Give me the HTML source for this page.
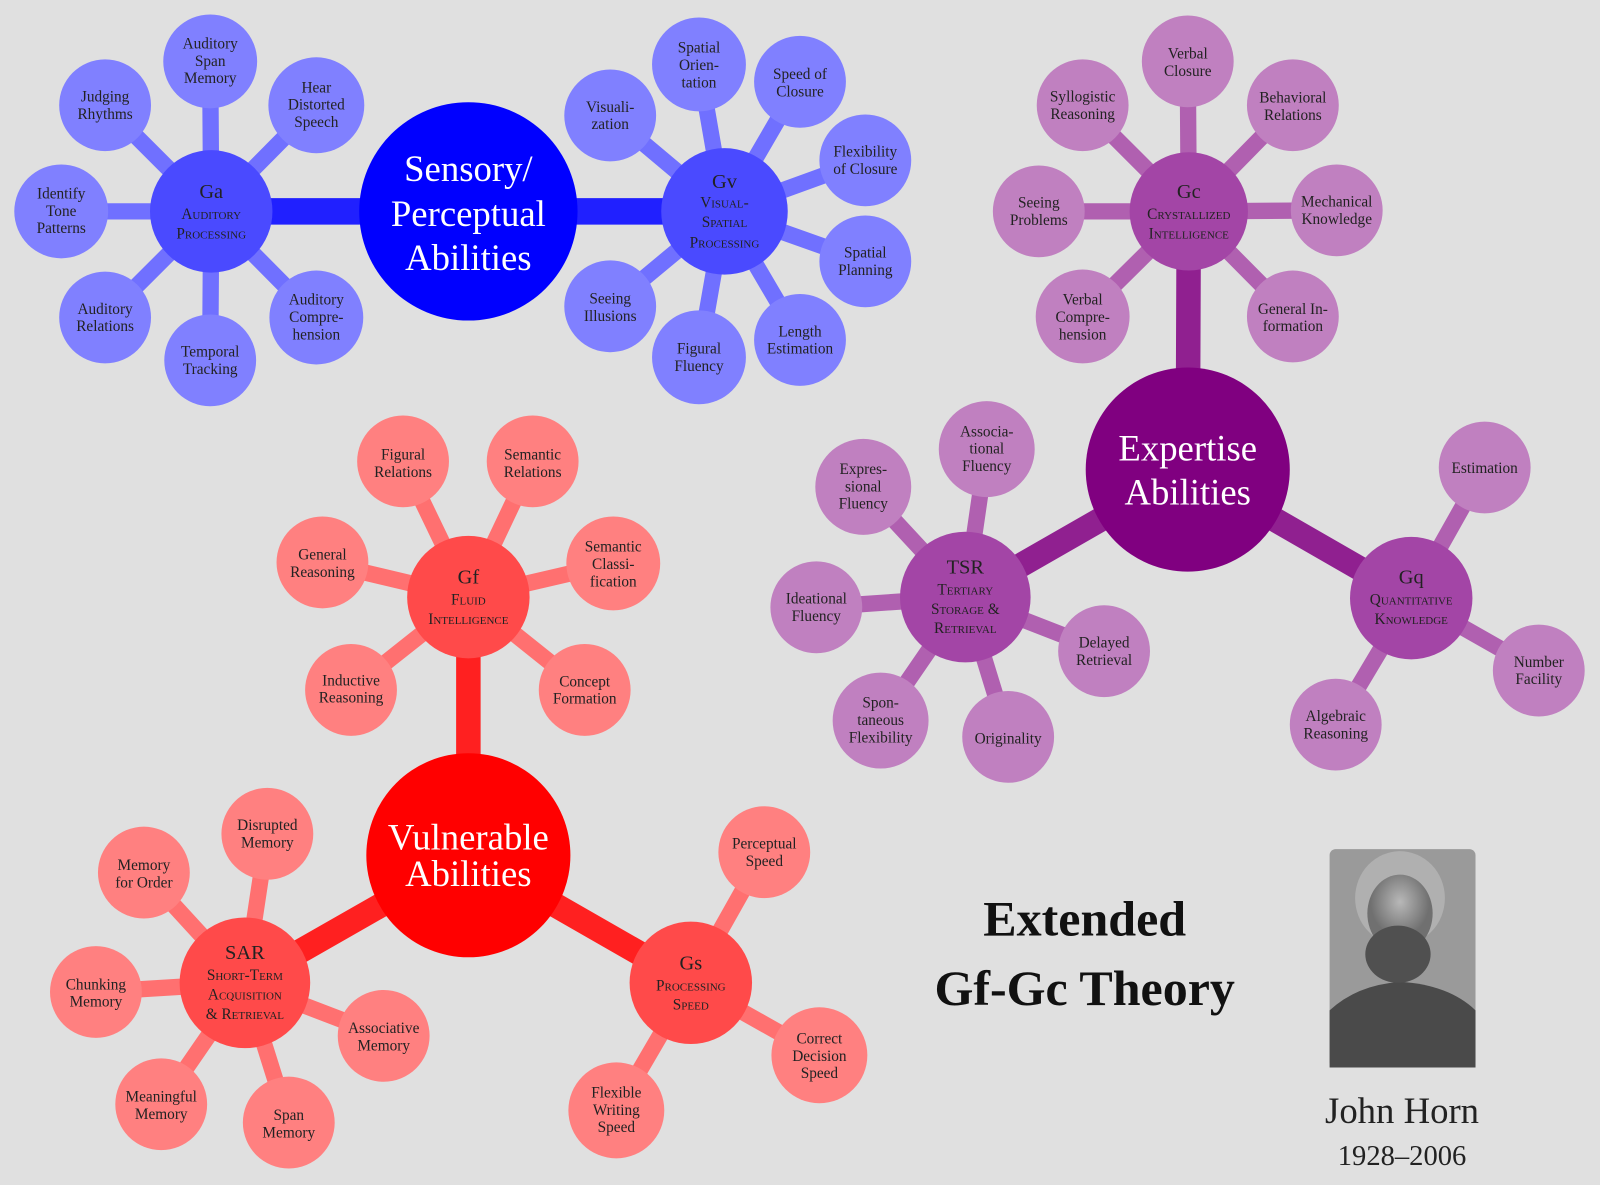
<!DOCTYPE html>
<html><head><meta charset="utf-8"><style>
html,body{margin:0;padding:0;background:#e0e0e0}
svg{display:block}
text{font-family:"Liberation Serif",serif;text-anchor:middle;dominant-baseline:central}
.c{font-size:15px;fill:#222}
.m{font-size:20px;fill:#222}
.s{font-size:15px;fill:#222;font-variant:small-caps}
.b{font-size:36px;fill:#fff}
</style></head><body>
<svg width="1600" height="1185" viewBox="0 0 1568 1161" xmlns="http://www.w3.org/2000/svg">
<rect width="1568" height="1161" fill="#e0e0e0"/>
<g stroke-linecap="round">
<g stroke="#7070ff" stroke-width="16">
<line x1="207" y1="207" x2="206" y2="60"/><line x1="207" y1="207" x2="103" y2="103"/><line x1="207" y1="207" x2="310" y2="103"/><line x1="207" y1="207" x2="60" y2="207"/><line x1="207" y1="207" x2="103" y2="311"/><line x1="207" y1="207" x2="206" y2="353"/><line x1="207" y1="207" x2="310" y2="311"/>
<line x1="710" y1="207" x2="598" y2="113"/><line x1="710" y1="207" x2="685" y2="63"/><line x1="710" y1="207" x2="784" y2="80"/><line x1="710" y1="207" x2="848" y2="157"/><line x1="710" y1="207" x2="848" y2="256"/><line x1="710" y1="207" x2="784" y2="333"/><line x1="710" y1="207" x2="685" y2="350"/><line x1="710" y1="207" x2="598" y2="300"/>
</g>
<g stroke="#2020ff" stroke-width="26"><line x1="207" y1="207" x2="459" y2="207"/><line x1="459" y1="207" x2="710" y2="207"/></g>
<g stroke="#b060b0" stroke-width="16">
<line x1="1165" y1="207" x2="1164" y2="60"/><line x1="1165" y1="207" x2="1061" y2="103"/><line x1="1165" y1="207" x2="1267" y2="103"/><line x1="1165" y1="207" x2="1018" y2="207"/><line x1="1165" y1="207" x2="1310" y2="206"/><line x1="1165" y1="207" x2="1061" y2="310"/><line x1="1165" y1="207" x2="1267" y2="310"/>
<line x1="946" y1="585" x2="846" y2="477"/><line x1="946" y1="585" x2="967" y2="440"/><line x1="946" y1="585" x2="800" y2="595"/><line x1="946" y1="585" x2="863" y2="706"/><line x1="946" y1="585" x2="988" y2="722"/><line x1="946" y1="585" x2="1082" y2="638"/>
<line x1="1383" y1="586" x2="1455" y2="458"/><line x1="1383" y1="586" x2="1508" y2="657"/><line x1="1383" y1="586" x2="1309" y2="710"/>
</g>
<g stroke="#902090" stroke-width="24"><line x1="1164" y1="460" x2="1165" y2="207"/><line x1="1164" y1="460" x2="946" y2="585"/><line x1="1164" y1="460" x2="1383" y2="586"/></g>
<g stroke="#ff7070" stroke-width="16">
<line x1="459" y1="585" x2="395" y2="452"/><line x1="459" y1="585" x2="522" y2="452"/><line x1="459" y1="585" x2="316" y2="551"/><line x1="459" y1="585" x2="601" y2="552"/><line x1="459" y1="585" x2="344" y2="676"/><line x1="459" y1="585" x2="573" y2="676"/>
<line x1="240" y1="963" x2="141" y2="855"/><line x1="240" y1="963" x2="262" y2="817"/><line x1="240" y1="963" x2="94" y2="972"/><line x1="240" y1="963" x2="376" y2="1015"/><line x1="240" y1="963" x2="158" y2="1082"/><line x1="240" y1="963" x2="283" y2="1100"/>
<line x1="677" y1="963" x2="749" y2="835"/><line x1="677" y1="963" x2="803" y2="1034"/><line x1="677" y1="963" x2="604" y2="1088"/>
</g>
<g stroke="#ff2020" stroke-width="24"><line x1="459" y1="838" x2="459" y2="585"/><line x1="459" y1="838" x2="240" y2="963"/><line x1="459" y1="838" x2="677" y2="963"/></g>
</g>
<g fill="#8080ff">
<circle cx="206" cy="60" r="46"/><circle cx="103" cy="103" r="45"/><circle cx="310" cy="103" r="47"/><circle cx="60" cy="207" r="46"/><circle cx="103" cy="311" r="45"/><circle cx="206" cy="353" r="45"/><circle cx="310" cy="311" r="46"/>
<circle cx="598" cy="113" r="45"/><circle cx="685" cy="63" r="46"/><circle cx="784" cy="80" r="45"/><circle cx="848" cy="157" r="45"/><circle cx="848" cy="256" r="45"/><circle cx="784" cy="333" r="45"/><circle cx="685" cy="350" r="46"/><circle cx="598" cy="300" r="45"/>
</g>
<circle cx="207" cy="207" r="60" fill="#4a4aff"/><circle cx="710" cy="207" r="62" fill="#4a4aff"/>
<circle cx="459" cy="207" r="107" fill="#0000ff"/>
<g fill="#c080c0">
<circle cx="1164" cy="60" r="45"/><circle cx="1061" cy="103" r="45"/><circle cx="1267" cy="103" r="45"/><circle cx="1018" cy="207" r="45"/><circle cx="1310" cy="206" r="45"/><circle cx="1061" cy="310" r="46"/><circle cx="1267" cy="310" r="45"/>
<circle cx="846" cy="477" r="47"/><circle cx="967" cy="440" r="47"/><circle cx="800" cy="595" r="45"/><circle cx="863" cy="706" r="47"/><circle cx="988" cy="722" r="45"/><circle cx="1082" cy="638" r="45"/>
<circle cx="1455" cy="458" r="45"/><circle cx="1508" cy="657" r="45"/><circle cx="1309" cy="710" r="45"/>
</g>
<circle cx="1165" cy="207" r="58" fill="#a345a6"/><circle cx="946" cy="585" r="64" fill="#a345a6"/><circle cx="1383" cy="586" r="60" fill="#a345a6"/>
<circle cx="1164" cy="460" r="100" fill="#800080"/>
<g fill="#ff8080">
<circle cx="395" cy="452" r="45"/><circle cx="522" cy="452" r="45"/><circle cx="316" cy="551" r="45"/><circle cx="601" cy="552" r="46"/><circle cx="344" cy="676" r="45"/><circle cx="573" cy="676" r="45"/>
<circle cx="141" cy="855" r="45"/><circle cx="262" cy="817" r="45"/><circle cx="94" cy="972" r="45"/><circle cx="376" cy="1015" r="45"/><circle cx="158" cy="1082" r="45"/><circle cx="283" cy="1100" r="45"/>
<circle cx="749" cy="835" r="45"/><circle cx="803" cy="1034" r="47"/><circle cx="604" cy="1088" r="47"/>
</g>
<circle cx="459" cy="585" r="60" fill="#ff4a4a"/><circle cx="240" cy="963" r="64" fill="#ff4a4a"/><circle cx="677" cy="963" r="60" fill="#ff4a4a"/>
<circle cx="459" cy="838" r="100" fill="#ff0000"/>

<text class="b" x="459" y="165">Sensory/</text><text class="b" x="459" y="209">Perceptual</text><text class="b" x="459" y="252">Abilities</text>
<text class="b" x="1164" y="439">Expertise</text><text class="b" x="1164" y="482">Abilities</text>
<text class="b" x="459" y="820">Vulnerable</text><text class="b" x="459" y="856">Abilities</text>

<text class="m" x="207" y="188">Ga</text><text class="s" x="207" y="210">Auditory</text><text class="s" x="207" y="229">Processing</text>
<text class="m" x="710" y="178">Gv</text><text class="s" x="710" y="199">Visual-</text><text class="s" x="710" y="218">Spatial</text><text class="s" x="710" y="238">Processing</text>
<text class="m" x="1165" y="188">Gc</text><text class="s" x="1165" y="210">Crystallized</text><text class="s" x="1165" y="229">Intelligence</text>
<text class="m" x="946" y="556">TSR</text><text class="s" x="946" y="578">Tertiary</text><text class="s" x="946" y="597">Storage &amp;</text><text class="s" x="946" y="616">Retrieval</text>
<text class="m" x="1383" y="566">Gq</text><text class="s" x="1383" y="588">Quantitative</text><text class="s" x="1383" y="607">Knowledge</text>
<text class="m" x="459" y="566">Gf</text><text class="s" x="459" y="588">Fluid</text><text class="s" x="459" y="607">Intelligence</text>
<text class="m" x="240" y="934">SAR</text><text class="s" x="240" y="956">Short-Term</text><text class="s" x="240" y="975">Acquisition</text><text class="s" x="240" y="994">&amp; Retrieval</text>
<text class="m" x="677" y="944">Gs</text><text class="s" x="677" y="966">Processing</text><text class="s" x="677" y="985">Speed</text>

<g>
<text class="c" x="206" y="43">Auditory</text><text class="c" x="206" y="60">Span</text><text class="c" x="206" y="77">Memory</text>
<text class="c" x="103" y="95">Judging</text><text class="c" x="103" y="112">Rhythms</text>
<text class="c" x="310" y="86">Hear</text><text class="c" x="310" y="103">Distorted</text><text class="c" x="310" y="120">Speech</text>
<text class="c" x="60" y="190">Identify</text><text class="c" x="60" y="207">Tone</text><text class="c" x="60" y="224">Patterns</text>
<text class="c" x="103" y="303">Auditory</text><text class="c" x="103" y="320">Relations</text>
<text class="c" x="206" y="345">Temporal</text><text class="c" x="206" y="362">Tracking</text>
<text class="c" x="310" y="294">Auditory</text><text class="c" x="310" y="311">Compre-</text><text class="c" x="310" y="328">hension</text>
<text class="c" x="598" y="105">Visuali-</text><text class="c" x="598" y="122">zation</text>
<text class="c" x="685" y="47">Spatial</text><text class="c" x="685" y="64">Orien-</text><text class="c" x="685" y="81">tation</text>
<text class="c" x="784" y="73">Speed of</text><text class="c" x="784" y="90">Closure</text>
<text class="c" x="848" y="149">Flexibility</text><text class="c" x="848" y="166">of Closure</text>
<text class="c" x="848" y="248">Spatial</text><text class="c" x="848" y="265">Planning</text>
<text class="c" x="784" y="325">Length</text><text class="c" x="784" y="342">Estimation</text>
<text class="c" x="685" y="342">Figural</text><text class="c" x="685" y="359">Fluency</text>
<text class="c" x="598" y="293">Seeing</text><text class="c" x="598" y="310">Illusions</text>

<text class="c" x="1164" y="53">Verbal</text><text class="c" x="1164" y="70">Closure</text>
<text class="c" x="1061" y="95">Syllogistic</text><text class="c" x="1061" y="112">Reasoning</text>
<text class="c" x="1267" y="96">Behavioral</text><text class="c" x="1267" y="113">Relations</text>
<text class="c" x="1018" y="199">Seeing</text><text class="c" x="1018" y="216">Problems</text>
<text class="c" x="1310" y="198">Mechanical</text><text class="c" x="1310" y="215">Knowledge</text>
<text class="c" x="1061" y="294">Verbal</text><text class="c" x="1061" y="311">Compre-</text><text class="c" x="1061" y="328">hension</text>
<text class="c" x="1267" y="303">General In-</text><text class="c" x="1267" y="320">formation</text>
<text class="c" x="846" y="460">Expres-</text><text class="c" x="846" y="477">sional</text><text class="c" x="846" y="494">Fluency</text>
<text class="c" x="967" y="423">Associa-</text><text class="c" x="967" y="440">tional</text><text class="c" x="967" y="457">Fluency</text>
<text class="c" x="800" y="587">Ideational</text><text class="c" x="800" y="604">Fluency</text>
<text class="c" x="863" y="689">Spon-</text><text class="c" x="863" y="706">taneous</text><text class="c" x="863" y="723">Flexibility</text>
<text class="c" x="988" y="724">Originality</text>
<text class="c" x="1082" y="630">Delayed</text><text class="c" x="1082" y="647">Retrieval</text>
<text class="c" x="1455" y="459">Estimation</text>
<text class="c" x="1508" y="649">Number</text><text class="c" x="1508" y="666">Facility</text>
<text class="c" x="1309" y="702">Algebraic</text><text class="c" x="1309" y="719">Reasoning</text>

<text class="c" x="395" y="446">Figural</text><text class="c" x="395" y="463">Relations</text>
<text class="c" x="522" y="446">Semantic</text><text class="c" x="522" y="463">Relations</text>
<text class="c" x="316" y="544">General</text><text class="c" x="316" y="561">Reasoning</text>
<text class="c" x="601" y="536">Semantic</text><text class="c" x="601" y="553">Classi-</text><text class="c" x="601" y="570">fication</text>
<text class="c" x="344" y="667">Inductive</text><text class="c" x="344" y="684">Reasoning</text>
<text class="c" x="573" y="668">Concept</text><text class="c" x="573" y="685">Formation</text>
<text class="c" x="141" y="848">Memory</text><text class="c" x="141" y="865">for Order</text>
<text class="c" x="262" y="809">Disrupted</text><text class="c" x="262" y="826">Memory</text>
<text class="c" x="94" y="965">Chunking</text><text class="c" x="94" y="982">Memory</text>
<text class="c" x="376" y="1008">Associative</text><text class="c" x="376" y="1025">Memory</text>
<text class="c" x="158" y="1075">Meaningful</text><text class="c" x="158" y="1092">Memory</text>
<text class="c" x="283" y="1093">Span</text><text class="c" x="283" y="1110">Memory</text>
<text class="c" x="749" y="827">Perceptual</text><text class="c" x="749" y="844">Speed</text>
<text class="c" x="803" y="1018">Correct</text><text class="c" x="803" y="1035">Decision</text><text class="c" x="803" y="1052">Speed</text>
<text class="c" x="604" y="1071">Flexible</text><text class="c" x="604" y="1088">Writing</text><text class="c" x="604" y="1105">Speed</text>
</g>

<text x="1063" y="900" style="font-size:49px;font-weight:bold;fill:#111">Extended</text>
<text x="1063" y="968" style="font-size:49px;font-weight:bold;fill:#111">Gf-Gc Theory</text>

<defs>
<radialGradient id="face" cx="50%" cy="35%" r="45%"><stop offset="0" stop-color="#b8b8b8"/><stop offset="1" stop-color="#707070"/></radialGradient>
</defs>
<rect x="1303" y="832" width="143" height="214" rx="6" fill="#9a9a9a"/>
<ellipse cx="1372" cy="880" rx="44" ry="46" fill="#b0b0b0"/>
<ellipse cx="1372" cy="895" rx="32" ry="38" fill="url(#face)"/>
<path d="M1303 990 Q1330 965 1372 962 Q1420 965 1446 990 L1446 1046 L1303 1046 Z" fill="#4a4a4a"/>
<ellipse cx="1370" cy="935" rx="32" ry="28" fill="#505050"/>
<text x="1374" y="1088" style="font-size:36px;fill:#222">John Horn</text>
<text x="1374" y="1133" style="font-size:28px;fill:#222">1928–2006</text>
</svg>
</body></html>
